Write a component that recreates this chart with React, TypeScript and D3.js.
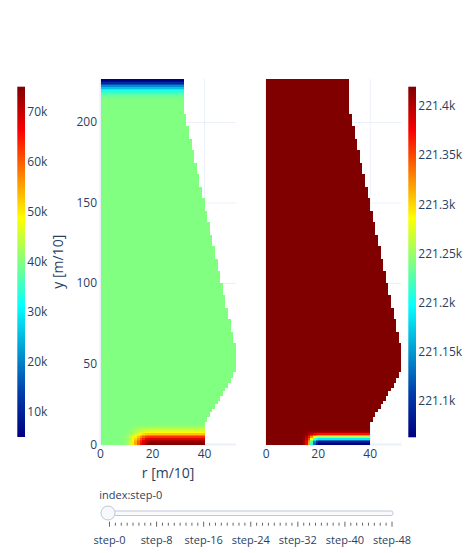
import React from 'react'
import * as d3 from 'd3'

// grid: rows are y [m/10], columns are r [m/10]
const nRows = 227
const nCols = 52

// right edge of the domain, bottom-up: [first row, last row, cells in row]
const edge: [number, number, number][] = [
  [0, 13, 40], [14, 16, 41], [17, 19, 42], [20, 21, 43], [22, 24, 44],
  [25, 26, 45], [27, 29, 46], [30, 32, 47], [33, 34, 48], [35, 37, 49],
  [38, 40, 50], [41, 44, 51], [45, 62, 52], [63, 69, 51], [70, 77, 50],
  [78, 84, 49], [85, 92, 48], [93, 99, 47], [100, 107, 46], [108, 114, 45],
  [115, 122, 44], [123, 129, 43], [130, 137, 42], [138, 144, 41], [145, 152, 40],
  [153, 159, 39], [160, 167, 38], [168, 174, 37], [175, 182, 36], [183, 189, 35],
  [190, 197, 34], [198, 204, 33], [205, 226, 32],
]

// left field
const leftBase = 39990
const leftRange = [5060, 75060]
const topStrip = [5060, 7000, 11000, 16000, 21000, 26000, 30000, 33000, 35200, 37000, 38400, 39300, 39800] // rows 226 downwards
const hotCore = [75060, 74200, 72000, 68000, 63000, 58000, 53000, 49000, 46000, 44000, 42500, 41300, 40500] // rows 0 upwards
const hotR = [9, 10, 11, 12, 13, 14, 15, 16, 17, 18]
const hotW = [0.03, 0.08, 0.16, 0.28, 0.42, 0.57, 0.72, 0.85, 0.94, 0.98]

// right field
const rightBase = 221420
const rightRange = [221063, 221420]
const coldCore = [221063, 221080, 221130, 221190, 221260, 221320, 221370, 221400, 221414] // rows 0 upwards
const coldR = [14, 15, 16, 17, 18, 19]
const coldW = [0.04, 0.12, 0.3, 0.58, 0.82, 0.95]

// ticks
const xTicks = [0, 20, 40]
const yTicks = [0, 50, 100, 150, 200]
const xGrid = [20, 40]
const leftCbTicks = [10000, 20000, 30000, 40000, 50000, 60000, 70000]
const rightCbTicks = [221100, 221150, 221200, 221250, 221300, 221350, 221400]
const steps = d3.range(49).map(i => `step-${i}`)

// plotly "Jet"
const jetStops = [0, 0.125, 0.375, 0.625, 0.875, 1]
const jetColors = ['rgb(0,0,131)', 'rgb(0,60,170)', 'rgb(5,255,255)', 'rgb(255,255,0)', 'rgb(250,0,0)', 'rgb(128,0,0)']

const font = '"Open Sans", verdana, arial, sans-serif'
const textColor = '#2a3f5f'
const gridColor = '#ebf0f8'

const weight = (r: number, rs: number[], ws: number[]) =>
  r < rs[0] ? 0 : r > rs[rs.length - 1] ? 1 : ws[r - rs[0]]

const rowWidth = (j: number) => edge.find(e => j >= e[0] && j <= e[1])![2]

const leftValue = (i: number, j: number) => {
  if (j > nRows - 1 - topStrip.length) return topStrip[nRows - 1 - j]
  if (j < hotCore.length) return leftBase + (hotCore[j] - leftBase) * weight(i, hotR, hotW)
  return leftBase
}

const rightValue = (i: number, j: number) => {
  if (j < coldCore.length) return rightBase - (rightBase - coldCore[j]) * weight(i, coldR, coldW)
  return rightBase
}

const jet = (range: number[]) =>
  d3.scaleLinear<string>()
    .domain(jetStops.map(s => range[0] + s * (range[1] - range[0])))
    .range(jetColors)
    .interpolate(d3.interpolateRgb)
    .clamp(true)

const Heatmap = ({ x, y, value, color }: any) => {
  const rects: any[] = []
  for (let j = 0; j < nRows; j++) {
    const w = rowWidth(j)
    let start = 0
    let c = color(value(0, j))
    for (let i = 1; i <= w; i++) {
      const ci = i < w ? color(value(i, j)) : null
      if (ci !== c) {
        rects.push(
          <rect key={`${j}-${start}`} x={x(start)} width={x(i) - x(start)}
            y={y(j + 1)} height={y(j) - y(j + 1)} fill={c} />
        )
        start = i
        c = ci
      }
    }
  }
  return <g shapeRendering="crispEdges">{rects}</g>
}

const Grid = ({ x, y }: any) => (
  <g>
    {yTicks.filter(d => d > 0).map(d => (
      <line key={'y' + d} x1={x.range()[0]} x2={x.range()[1]} y1={y(d)} y2={y(d)} stroke={gridColor} />
    ))}
    {xGrid.map(d => (
      <line key={'x' + d} x1={x(d)} x2={x(d)} y1={y.range()[0]} y2={y.range()[1]} stroke={gridColor} />
    ))}
    <line x1={x.range()[0]} x2={x.range()[1]} y1={y(0)} y2={y(0)} stroke={gridColor} strokeWidth={2} />
    <line x1={x(0)} x2={x(0)} y1={y.range()[0]} y2={y.range()[1]} stroke={gridColor} strokeWidth={2} />
  </g>
)

const XTicks = ({ x, y }: any) => (
  <g fontSize={12} fill={textColor} textAnchor="middle">
    {xTicks.map(d => (
      <text key={d} x={x(d)} y={y(0) + 13}>{d}</text>
    ))}
  </g>
)

const Colorbar = ({ id, x, top, bottom, range, ticks, format }: any) => {
  const s = d3.scaleLinear().domain(range).range([bottom, top])
  return (
    <g>
      <defs>
        <linearGradient id={id} x1="0" y1="1" x2="0" y2="0">
          {jetStops.map((t, k) => <stop key={k} offset={t} stopColor={jetColors[k]} />)}
        </linearGradient>
      </defs>
      <rect x={x} y={top} width={7.7} height={bottom - top} fill={`url(#${id})`} />
      <g fontSize={12} fill={textColor}>
        {ticks.map((d: number) => (
          <text key={d} x={x + 10} y={s(d) + 4}>{format(d)}</text>
        ))}
      </g>
    </g>
  )
}

export default function App() {
  const width = 474, height = 553
  const y = d3.scaleLinear().domain([0, nRows]).range([444.5, 79])
  const xL = d3.scaleLinear().domain([0, nCols]).range([100.5, 235.7])
  const xR = d3.scaleLinear().domain([0, nCols]).range([266.2, 401.4])
  const cL = jet(leftRange)
  const cR = jet(rightRange)
  const sx = d3.scalePoint().domain(steps).range([109.5, 392])

  return (
    <svg width={width} height={height} fontFamily={font}
      style={{ position: 'absolute', left: 0, top: 0, background: '#fff' }}>
      <Grid x={xL} y={y} />
      <Grid x={xR} y={y} />
      <Heatmap x={xL} y={y} value={leftValue} color={cL} />
      <Heatmap x={xR} y={y} value={rightValue} color={cR} />

      <XTicks x={xL} y={y} />
      <XTicks x={xR} y={y} />
      <g fontSize={12} fill={textColor} textAnchor="end">
        {yTicks.map(d => (
          <text key={d} x={97} y={y(d) + 4}>{d}</text>
        ))}
      </g>
      <text x={(xL.range()[0] + xL.range()[1]) / 2} y={478} fontSize={14} fill={textColor} textAnchor="middle">r [m/10]</text>
      <text transform={`translate(63,${(y.range()[0] + y.range()[1]) / 2}) rotate(-90)`} fontSize={14} fill={textColor} textAnchor="middle">y [m/10]</text>

      <Colorbar id="cbL" x={17.3} top={86.7} bottom={437} range={leftRange} ticks={leftCbTicks}
        format={(d: number) => `${d / 1000}k`} />
      <Colorbar id="cbR" x={408.3} top={86.7} bottom={437.3} range={rightRange} ticks={rightCbTicks}
        format={(d: number) => `${+(d / 1000).toFixed(2)}k`} />

      {/* slider */}
      <text x={99.3} y={499} fontSize={11} fill={textColor}>index:step-0</text>
      <rect x={106.7} y={511} width={286.3} height={4.5} rx={2} fill="#f8fafc" stroke="#bec8d9" />
      <g stroke="#666">
        {steps.map((s, i) => (
          <line key={s} x1={sx(s)} x2={sx(s)} y1={i % 8 === 0 ? 521.7 : 522.7} y2={i % 8 === 0 ? 526.7 : 525.7} />
        ))}
      </g>
      <circle cx={108} cy={513} r={7} fill="#f6f8fa" stroke="#bec8d9" />
      <g fontSize={11} fill={textColor} textAnchor="middle">
        {steps.filter((_, i) => i % 8 === 0).map(s => (
          <text key={s} x={sx(s)} y={544}>{s}</text>
        ))}
      </g>
    </svg>
  )
}
